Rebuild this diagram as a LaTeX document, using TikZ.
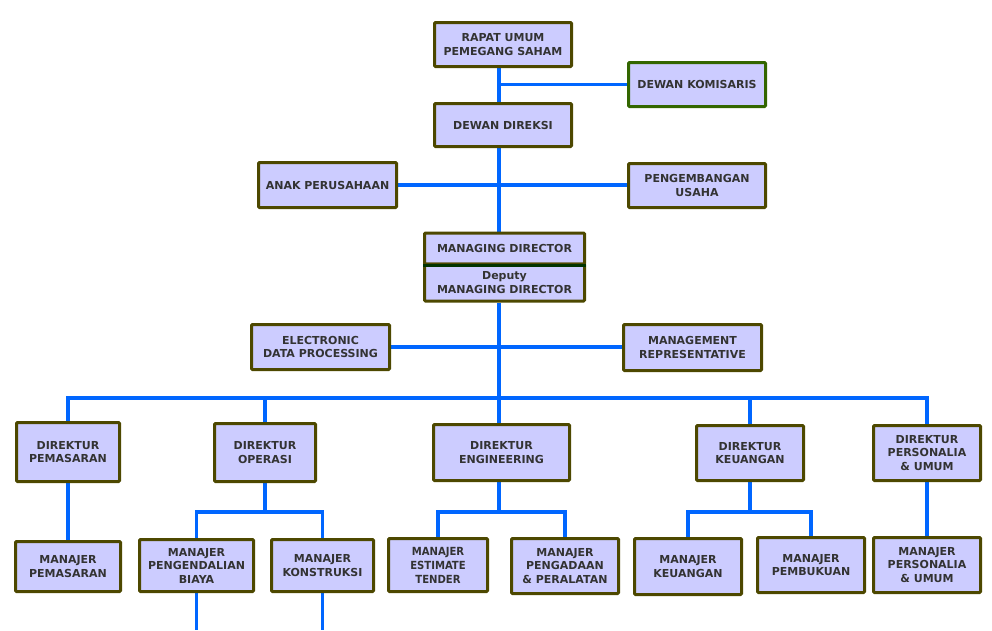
\documentclass[tikz,border=0pt]{standalone}
\usepackage{fontspec}
\setsansfont{DejaVu Sans}
\newfontfamily\condfont{DejaVu Sans Condensed}
\usepackage{tikz}
\usetikzlibrary{backgrounds}
\definecolor{boxfill}{RGB}{204,204,255}
\definecolor{boxline}{RGB}{77,72,0}
\definecolor{komline}{RGB}{51,102,0}
\definecolor{divline}{RGB}{0,51,0}
\definecolor{linkblue}{RGB}{0,102,255}
\definecolor{boxtext}{RGB}{51,51,51}

\begin{document}
\begin{tikzpicture}[x = 1pt, y = -1pt,
                    box/.style = {rectangle, draw = boxline, line width = 3pt, fill = boxfill,
                                  rounded corners = 1pt, text = boxtext, align = center, inner sep = 0pt,
                                  font = \sffamily\bfseries\fontsize{11}{13.5}\selectfont},
                    link/.style = {draw = linkblue, line width = 3.6pt}]
      \useasboundingbox (0, 0) rectangle (992, 630);
      \coordinate (trunk) at (499, 0);
      \coordinate (bus) at (0, 398);
      \coordinate (sub) at (0, 512);
      \coordinate (bottom) at (0, 630);

      \node [box, minimum width = 137, minimum height = 44] (rapat) at (503, 44.5) {RAPAT UMUM\\PEMEGANG SAHAM};
      \node [box, draw = komline, minimum width = 137, minimum height = 44] (komisaris) at (697, 84.5) {DEWAN KOMISARIS};
      \node [box, minimum width = 137, minimum height = 43] (direksi) at (503, 125) {DEWAN DIREKSI};
      \node [box, minimum width = 138, minimum height = 45] (anak) at (327.5, 185) {ANAK PERUSAHAAN};
      \node [box, minimum width = 137, minimum height = 44] (kembang) at (697, 185.5) {PENGEMBANGAN\\USAHA};
      \node [box, minimum width = 160, minimum height = 31] (md) at (504.5, 248.5) {MANAGING DIRECTOR};
      \node [box, minimum width = 160, minimum height = 37] (dmd) at (504.5, 282.5) {Deputy\\MANAGING DIRECTOR};
      \draw [draw = divline, line width = 3pt] (md.south west) -- (md.south east);
      \node [box, minimum width = 138, minimum height = 45] (edp) at (320.5, 347) {ELECTRONIC\\DATA PROCESSING};
      \node [box, minimum width = 138, minimum height = 46] (mr) at (692.5, 347.5) {MANAGEMENT\\REPRESENTATIVE};

      \node [box, minimum width = 103, minimum height = 59] (dpem) at (68, 452) {DIREKTUR\\PEMASARAN};
      \node [box, minimum width = 101, minimum height = 58] (dops) at (265, 452.5) {DIREKTUR\\OPERASI};
      \node [box, minimum width = 136, minimum height = 56] (deng) at (501.5, 452.5) {DIREKTUR\\ENGINEERING};
      \node [box, minimum width = 107, minimum height = 55] (dkeu) at (750, 453) {DIREKTUR\\KEUANGAN};
      \node [box, minimum width = 107, minimum height = 55] (dper) at (927, 453) {DIREKTUR\\PERSONALIA\\\& UMUM};

      \node [box, minimum width = 105, minimum height = 50] (mpem) at (68, 566.5) {MANAJER\\PEMASARAN};
      \node [box, minimum width = 114, minimum height = 52] (mbia) at (196.5, 565.5) {MANAJER\\PENGENDALIAN\\BIAYA};
      \node [box, minimum width = 102, minimum height = 52] (mkon) at (322.5, 565.5) {MANAJER\\KONSTRUKSI};
      \node [box, minimum width = 99, minimum height = 53,
             font = \condfont\bfseries\fontsize{11.2}{14}\selectfont] (mest) at (438, 565) {MANAJER\\ESTIMATE\\TENDER};
      \node [box, minimum width = 107, minimum height = 55] (mpgd) at (565, 566) {MANAJER\\PENGADAAN\\\& PERALATAN};
      \node [box, minimum width = 107, minimum height = 56] (mkeu) at (688, 566.5) {MANAJER\\KEUANGAN};
      \node [box, minimum width = 107, minimum height = 55] (mbuk) at (811, 565) {MANAJER\\PEMBUKUAN};
      \node [box, minimum width = 107, minimum height = 55] (mper) at (927, 565) {MANAJER\\PERSONALIA\\\& UMUM};

      \begin{scope}[on background layer]
        \draw [link] (rapat.south -| trunk) -- (direksi.north -| trunk);
        \draw [link] (komisaris.west) -- (komisaris.west -| trunk);
        \draw [link] (direksi.south -| trunk) -- (md.north -| trunk);
        \draw [link] (anak.east) -- (anak.east -| kembang.west);
        \draw [link] (dmd.south -| trunk) -- (deng.north -| trunk);
        \draw [link] (edp.east) -- (edp.east -| mr.west);
        \draw [link] (dpem.north) -- (dpem.north |- bus) -- (dper.north |- bus) -- (dper.north);
        \draw [link] (dops.north) -- (dops.north |- bus);
        \draw [link] (dkeu.north) -- (dkeu.north |- bus);
        \draw [link] (dpem.south) -- (mpem.north);
        \draw [link] (dper.south) -- (mper.north);
        \draw [link] (dops.south) -- (dops.south |- sub);
        \draw [link] (mbia.north) -- (mbia.north |- sub) -- (mkon.north |- sub) -- (mkon.north);
        \draw [link] (deng.south -| trunk) -- (sub -| trunk);
        \draw [link] (mest.north) -- (mest.north |- sub) -- (mpgd.north |- sub) -- (mpgd.north);
        \draw [link] (dkeu.south) -- (dkeu.south |- sub);
        \draw [link] (mkeu.north) -- (mkeu.north |- sub) -- (mbuk.north |- sub) -- (mbuk.north);
        \draw [link] (mbia.south) -- (mbia.south |- bottom);
        \draw [link] (mkon.south) -- (mkon.south |- bottom);
      \end{scope}
    \end{tikzpicture}
\end{document}
